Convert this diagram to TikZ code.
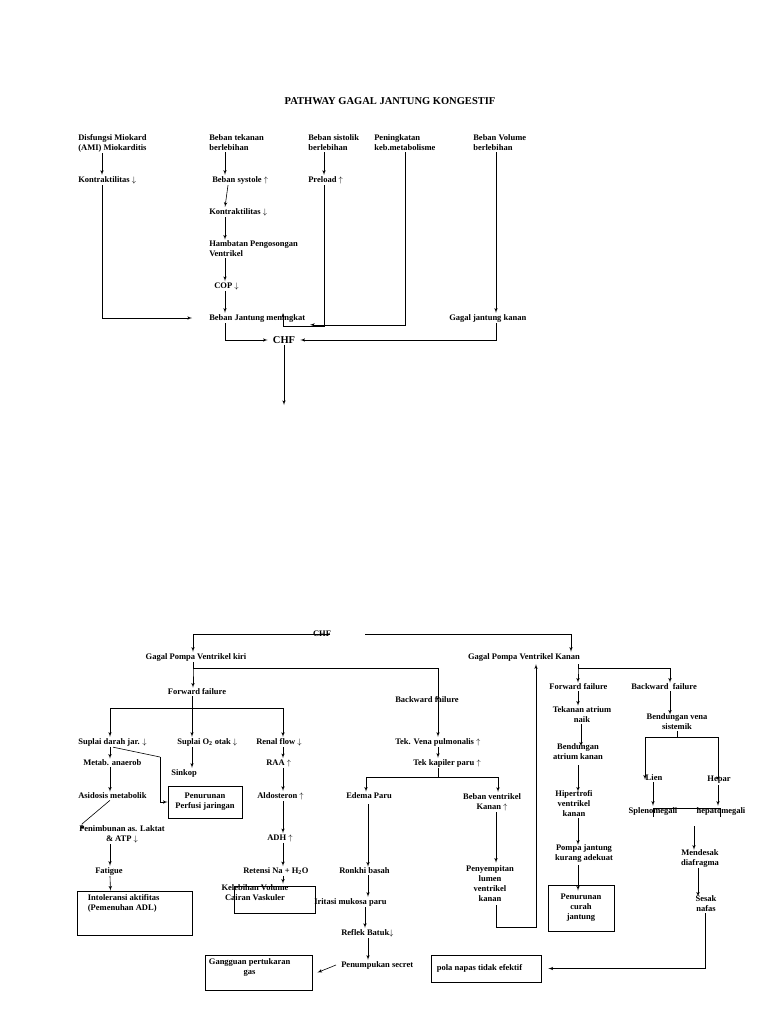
\documentclass[tikz,border=0pt]{standalone}
\usepackage{fontspec}
\setmainfont{Liberation Serif}
\usetikzlibrary{arrows,positioning}
\tikzset{every node/.append style={font=\fontsize{8.5}{10}\selectfont\bfseries, inner sep=1pt},
  txt/.style={anchor=west, align=left},
  ctr/.style={align=center},
  box/.style={draw, rectangle, inner sep=0pt, line width=0.8pt}}
\begin{document}
\begin{tikzpicture}[x=1pt,y=-1pt,>=latex',line width=0.6pt]
    \useasboundingbox (0,0) rectangle (768,1024);
    \node [font=\fontsize{10.5}{12}\selectfont\bfseries] (title) at (390,101) {PATHWAY GAGAL JANTUNG KONGESTIF};
    % sebab
    \node [txt] (d1) at (77,143) {Disfungsi Miokard\\(AMI) Miokarditis};
    \node [txt] (d2) at (208,143) {Beban tekanan\\berlebihan};
    \node [txt] (d3) at (307,143) {Beban sistolik\\berlebihan};
    \node [txt] (d4) at (373,143) {Peningkatan\\keb.metabolisme};
    \node [txt] (d5) at (472,143) {Beban Volume\\berlebihan};
    \node [txt] (k1) at (77,180) {Kontraktilitas $\downarrow$};
    \node [txt] (bs) at (211,180) {Beban systole $\uparrow$};
    \node [txt] (pl) at (307,180) {Preload $\uparrow$};
    \node [txt] (k2) at (208,212) {Kontraktilitas $\downarrow$};
    \node [txt] (hp) at (208,249) {Hambatan Pengosongan\\Ventrikel};
    \node [txt] (cop) at (213,286) {COP $\downarrow$};
    \node [txt] (bj) at (208,318) {Beban Jantung meningkat};
    \node [txt] (gjk) at (448,318) {Gagal jantung kanan};
    \node [font=\fontsize{10.5}{12}\selectfont\bfseries] (chf) at (284,340) {CHF};
    \coordinate (chfend) at (284,405);
    \draw[->] ([xshift=25pt]d1.south west) -- ([xshift=25pt]k1.north west);
    \draw[->] ([xshift=25pt]k1.south west) |- ([xshift=-16pt]bj.west);
    \draw[->] ([xshift=17pt]d2.south west) -- ([xshift=14pt]bs.north west);
    \draw[->] ([xshift=17pt]bs.south west) -- ([xshift=17pt]k2.north west);
    \draw[->] ([xshift=17pt]k2.south west) -- ([xshift=17pt]hp.north west);
    \draw[->] ([xshift=17pt]hp.south west) -- ([xshift=12pt]cop.north west);
    \draw[->] ([xshift=12pt]cop.south west) -- ([xshift=17pt]bj.north west);
    \draw[->] ([xshift=17pt]d3.south west) -- ([xshift=17pt]pl.north west);
    \draw[->] ([xshift=17pt]pl.south west) |- ([xshift=75pt,yshift=-13pt]bj.north west) -- ([xshift=75pt]bj.north west);
    \draw[->] ([xshift=32pt]d4.south west) |- ([xshift=102pt,yshift=-12pt]bj.north west);
    \draw[->] ([xshift=24pt]d5.south west) -- ([xshift=48pt]gjk.north west);
    \draw[->] ([xshift=17pt]bj.south west) |- ([xshift=-4pt]chf.west);
    \draw[->] ([xshift=48pt]gjk.south west) |- ([xshift=4pt]chf.east);
    \draw[->] (chf) -- (chfend);
    % bagian bawah
    \node (chf2) at (322,634) {CHF};
    \node (gki) at (196,657) {Gagal Pompa Ventrikel kiri};
    \node (gka) at (524,657) {Gagal Pompa Ventrikel Kanan};
    \draw[->] ([xshift=8pt]chf2.center) -| (gki.north -| 193,0);
    \draw[->] ([xshift=43pt]chf2.center) -| ([xshift=47pt]gka.north);
    \node (ff) at (197,692) {Forward failure};
    \node (bf) at (427,700) {Backward failure};
    \draw[->] ([xshift=-3pt]gki.south) |- ++(0,6) -| (ff.north -| 193,0);
    \draw[->] ([xshift=-3pt]gki.south) |- ++(0,6) -| ([xshift=11pt,yshift=-6pt]bf.north);
    % kiri
    \node [txt] (s1) at (77,742) {Suplai darah jar. $\downarrow$};
    \node [txt] (s2) at (176,742) {Suplai O\textsubscript{2} otak $\downarrow$};
    \node [txt] (s3) at (255,742) {Renal flow $\downarrow$};
    \draw[->] ([xshift=-5pt]ff.south) |- ++(0,12) -| ([xshift=33pt]s1.north west);
    \draw[->] ([xshift=-5pt]ff.south) -- ([xshift=16pt]s2.north west);
    \draw[->] ([xshift=-5pt]ff.south) |- ++(0,12) -| ([xshift=28pt]s3.north west);
    \node [txt] (ma) at (82,763) {Metab. anaerob};
    \node [txt] (sk) at (170,773) {Sinkop};
    \node [txt] (raa) at (265,763) {RAA $\uparrow$};
    \node [txt] (am) at (77,796) {Asidosis metabolik};
    \node [box, minimum width=74pt, minimum height=32pt, align=center] (ppj) at (205,802) {Penurunan\\Perfusi jaringan};
    \node [txt] (ald) at (256,796) {Aldosteron $\uparrow$};
    \node [ctr] (pl2) at (122,834) {Penimbunan as. Laktat\\\& ATP $\downarrow$};
    \node [txt] (adh) at (266,838) {ADH $\uparrow$};
    \node [txt] (fat) at (94,871) {Fatigue};
    \node [txt] (ret) at (242,871) {Retensi Na + H\textsubscript{2}O};
    \node [box, minimum width=115pt, minimum height=44pt] (itab) at (134.5,913) {};
    \node [anchor=north west, align=left] (ita) at ([xshift=10pt,yshift=-3pt]itab.north west) {Intoleransi aktifitas\\(Pemenuhan ADL)};
    \node [box, minimum width=81pt, minimum height=27pt] (kvcb) at (274.5,899.5) {};
    \node [ctr] (kvc) at (255,893) {Kelebihan Volume\\Cairan Vaskuler};
    \coordinate (belok) at (160,757);
    \draw[->] ([xshift=33pt]s1.south west) -- ([xshift=28pt]ma.north west);
    \draw ([xshift=36pt]s1.south west) -- (belok);
    \draw[->] (belok) |- (ppj.west);
    \draw[->] ([xshift=28pt]ma.south west) -- ([xshift=33pt]am.north west);
    \draw[->] ([xshift=33pt]am.south west) -- (pl2.north -| ma.west) ++(0,0);
    \draw[->] ([xshift=16pt]fat.south west) -- ([xshift=-24pt]itab.north);
    \draw[->] ([xshift=16pt]s2.south west) -- ([xshift=22pt]sk.north west);
    \draw[->] ([xshift=28pt]s3.south west) -- ([xshift=18pt]raa.north west);
    \draw[->] ([xshift=18pt]raa.south west) -- ([xshift=27pt]ald.north west);
    \draw[->] ([xshift=27pt]ald.south west) -- ([xshift=17pt]adh.north west);
    \draw[->] ([xshift=17pt]adh.south west) -- ([xshift=41pt]ret.north west);
    \draw[->] ([xshift=41pt]ret.south west) -- ([xshift=28pt]kvc.north);
    \draw[->] (pl2.south -| fat.west) ++(16,0) -- ([xshift=16pt]fat.north west);
    % tengah
    \node [txt] (tvp) at (394,742) {Tek. Vena pulmonalis $\uparrow$};
    \node [txt] (tkp) at (412,763) {Tek kapiler paru $\uparrow$};
    \draw[->] ([xshift=11pt,yshift=2pt]bf.south) -- ([xshift=44pt]tvp.north west);
    \draw[->] ([xshift=44pt]tvp.south west) -- ([xshift=26pt]tkp.north west);
    \node [txt] (ep) at (345,796) {Edema Paru};
    \node [ctr] (bvk) at (492,802) {Beban ventrikel\\Kanan $\uparrow$};
    \draw[->] ([xshift=26pt]tkp.south west) |- ++(0,9) -| ([xshift=21pt]ep.north west);
    \draw[->] ([xshift=26pt]tkp.south west) |- ++(0,9) -| ([xshift=6pt]bvk.north);
    \node [txt] (rb) at (338,871) {Ronkhi basah};
    \node [txt] (imp) at (313,902) {Iritasi mukosa paru};
    \node [txt] (rbt) at (340,933) {Reflek Batuk$\downarrow$};
    \node [txt] (ps) at (340,965) {Penumpukan secret};
    \node [box, minimum width=107pt, minimum height=35pt] (ggpb) at (258.5,972.5) {};
    \node [anchor=north west, align=center] (ggp) at ([xshift=3pt,yshift=-3pt]ggpb.north west) {Gangguan pertukaran\\gas};
    \draw[->] ([xshift=23pt,yshift=-4pt]ep.south west) -- ([xshift=30pt]rb.north west);
    \draw[->] ([xshift=30pt]rb.south west) -- ([xshift=55pt]imp.north west);
    \draw[->] ([xshift=52pt]imp.south west) -- ([xshift=25pt]rbt.north west);
    \draw[->] ([xshift=28pt]rbt.south west) -- ([xshift=28pt]ps.north west);
    \draw[->] ([xshift=-4pt]ps.west) -- ([xshift=5pt]ggpb.east);
    \node [ctr] (pen) at (490,884) {Penyempitan\\lumen\\ventrikel\\kanan};
    \draw[->] ([xshift=4pt]bvk.south) -- ([xshift=6pt,yshift=2pt]pen.north);
    \draw[->] ([xshift=6pt,yshift=-2pt]pen.south) |- ++(40,22) -- ([xshift=12pt,yshift=-2pt]gka.south);
    % kanan
    \node [txt] (ff2) at (548,687) {Forward failure};
    \node [txt] (bf2) at (630,687) {Backward~~failure};
    \draw[->] ([xshift=54pt,yshift=-2pt]gka.south) |- ++(0,4) -| ([xshift=30pt]ff2.north west);
    \draw[->] ([xshift=54pt,yshift=-2pt]gka.south) |- ++(0,4) -| ([xshift=40pt]bf2.north west);
    \node [ctr] (tan) at (582,715) {Tekanan atrium\\naik};
    \node [ctr] (bak) at (578,752) {Bendungan\\atrium kanan};
    \node [ctr] (hip) at (574,804) {Hipertrofi\\ventrikel\\kanan};
    \node [ctr] (pjk) at (584,853) {Pompa jantung\\kurang adekuat};
    \node [box, minimum width=66pt, minimum height=46pt, align=center] (pcj) at (581,908) {Penurunan\\curah\\jantung};
    \draw[->] ([xshift=30pt]ff2.south west) -- ([xshift=-4pt]tan.north);
    \draw[->] ([xshift=-1pt]tan.south) -- ([xshift=3pt,yshift=-4pt]bak.north);
    \draw[->] ([xshift=0pt,yshift=-4pt]bak.south) -- ([xshift=4pt,yshift=-2pt]hip.north);
    \draw[->] ([xshift=4pt]hip.south) -- ([xshift=-6pt,yshift=-2pt]pjk.north);
    \draw[->] ([xshift=-6pt,yshift=-2pt]pjk.south) -- ([xshift=-3pt,yshift=-6pt]pcj.north);
    \node [ctr] (bvs) at (677,722) {Bendungan vena\\sistemik};
    \node (lien) at (654,778) {Lien};
    \node (hepar) at (719,780) {Hepar};
    \node (spl) at (653,811) {Splenomegali};
    \node (hep) at (721,811) {hepatomegali};
    \node [ctr] (md) at (700,858) {Mendesak\\diafragma};
    \node [ctr] (sn) at (706,904) {Sesak\\nafas};
    \node [box, minimum width=110pt, minimum height=27pt] (pntb) at (486,968.5) {};
    \node [anchor=west] (pnt) at ([xshift=5pt]pntb.west) {pola napas tidak efektif};
    \draw[->] ([xshift=40pt]bf2.south west) -- ([xshift=-7pt,yshift=-2pt]bvs.north);
    \draw[->] (bvs.south) |- ++(0,6) -| ([xshift=-9pt,yshift=-6pt]lien.north);
    \draw[->] (bvs.south) |- ++(0,6) -| ([xshift=-1pt,yshift=-6pt]hepar.north);
    \draw[->] ([xshift=-1pt]lien.south) -- ([xshift=0pt]spl.north);
    \draw[->] ([xshift=-1pt]hepar.south) -- ([xshift=-3pt]hep.north);
    \draw ([yshift=-1pt]spl.south) |- ([xshift=-1pt,yshift=8pt]hep.south) -- ([xshift=-1pt,yshift=-1pt]hep.south);
    \draw[->] (md.north |- spl.south) ++(-6,10) -- ([xshift=-6pt,yshift=-2pt]md.north);
    \draw[->] ([xshift=-2pt]md.south) -- ([xshift=-8pt,yshift=-2pt]sn.north);
    \draw[->] ([xshift=-1pt]sn.south) |- ([xshift=7pt]pntb.east);
\end{tikzpicture}
\end{document}
